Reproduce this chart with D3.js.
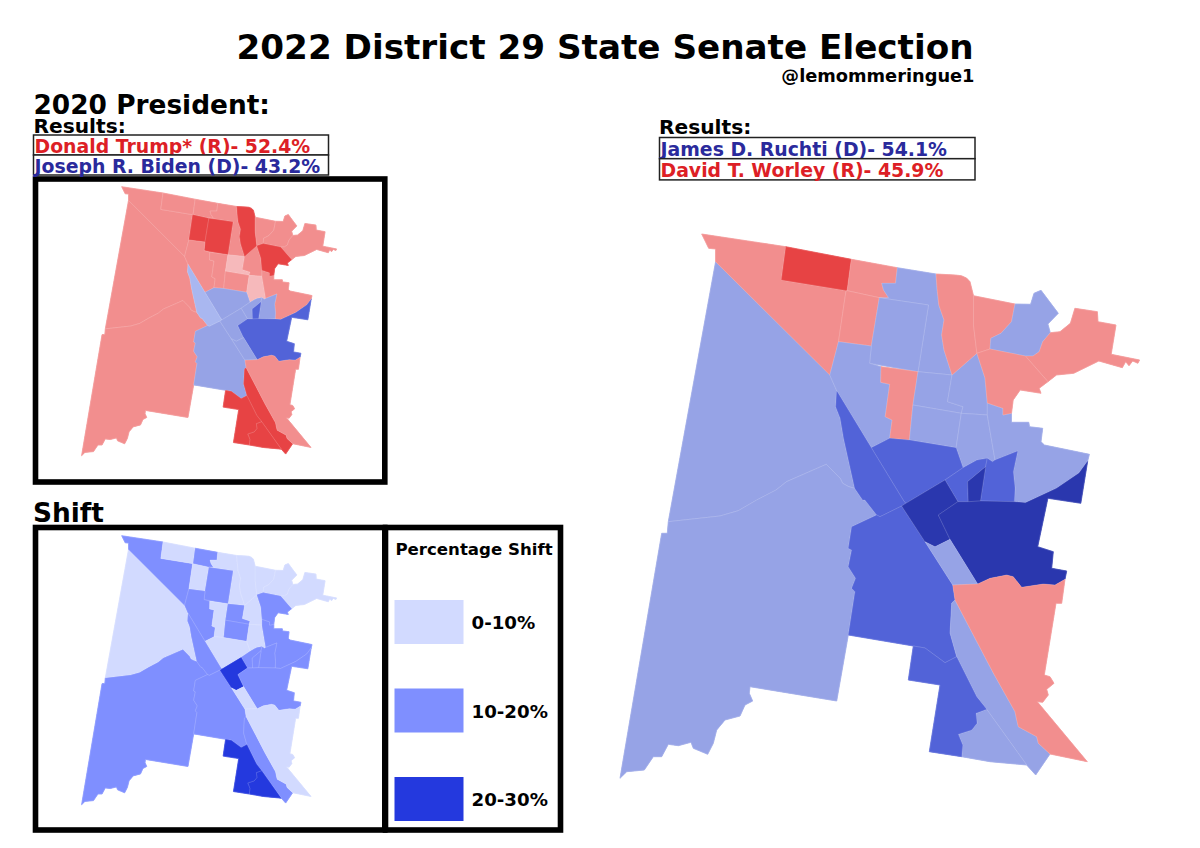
<!DOCTYPE html>
<html>

<head>
    <meta charset="utf-8">
    <style>
        html, body { margin: 0; padding: 0; background: #fff; }
        svg { display: block; }
        text { font-family: 'DejaVu Sans', Verdana, sans-serif; font-weight: bold; }
    </style>
</head>

<body>
    <svg width="1200" height="848"></svg>

    <script src="https://d3js.org/d3.v7.min.js"></script>
    <script>
        // precinct outlines (reference pixels)
        const bigNorth = [[715.6,261.7],[829.8,375],[836.7,390.7],[835.7,406.7],[840.2,418.3],[843.6,438.3],[854.7,488.3],[848.8,486.7],[842.6,483.3],[840.2,478.3],[826.3,464.3],[786.5,481.7],[776,490],[756.7,500],[738.3,510.7],[720,516],[668.3,521.7]];
        const bigSouth = [[668.3,521.7],[720,516],[738.3,510.7],[756.7,500],[776,490],[786.5,481.7],[826.3,464.3],[840.2,478.3],[842.6,483.3],[848.8,486.7],[854.7,488.3],[862.7,500],[865,500],[876.7,515],[851.7,526.7],[848.3,548.3],[851.7,550],[848.3,566.7],[855.7,578.3],[851.7,588.3],[855,591.7],[848.3,635],[836.7,701],[750,686.7],[749.3,693.3],[752.7,701],[745,705],[740,716],[725,720],[716.7,730],[713.3,743.3],[707.7,754.3],[693.3,748.3],[691,742.3],[678.3,745.7],[668.3,744.3],[661.7,756.7],[653.3,756.7],[644.3,770],[626.7,771.7],[620,778.3],[661.7,533.3],[667.3,533.3]];
        const nwPink = [[701.7,234],[785.8,246.7],[781.3,280],[847.1,290.7],[846,291],[838.5,341.7],[829.8,375],[715.6,261.7],[715.6,249],[708.7,248.3]];
        const topRect = [[785.8,246.7],[851.3,259.3],[847.1,290.7],[781.3,280]];
        const topHook = [[851.3,259.3],[897.3,267.7],[895.6,283.3],[881.7,283.3],[883.5,290],[888.6,297.7],[879.3,297.7],[847.1,290.7]];
        const underTop = [[846,291],[847.1,290.7],[879.3,297.7],[871.3,346],[838.5,341.7]];
        const midL = [[897.3,267.7],[936,274],[937,288.3],[938.8,305],[944,320],[941.6,335],[944,350],[952,375],[918,371.7],[928.5,305],[879.3,297.7],[888.6,297.7],[883.5,290],[881.7,283.3],[895.6,283.3]];
        const midSquare = [[879.3,297.7],[928.5,305],[918,371.7],[869.6,363.3],[871.3,346]];
        const westL = [[838.5,341.7],[871.3,346],[869.6,363.3],[881,366.7],[880.7,382.3],[889.7,384.3],[885.2,416.7],[892.1,420],[889.7,438.3],[871.3,447.7],[836.7,390.7],[829.8,375]];
        const stem = [[881,366.7],[918,371.7],[912.9,405],[909.4,440],[889.7,438.3],[892.1,420],[885.2,416.7],[889.7,384.3],[880.7,382.3]];
        const cellA = [[918,371.7],[952,375],[947.5,401.7],[963,406.7],[961.3,413.3],[912.9,405]];
        const cellB = [[912.9,405],[961.3,413.3],[956.1,447.7],[909.4,440]];
        const cellC = [[952,375],[976.9,353.3],[985,378],[987.3,403],[987.3,415],[961.3,413.3],[963,406.7],[947.5,401.7]];
        const cellD = [[961.3,413.3],[987.3,415],[995,460],[992.5,461.7],[987.3,458.3],[977,460],[963,467.7],[956.1,447.7]];
        const eastBlock = [[987.3,403],[1002.9,408.3],[1002.9,415],[1011.5,413.3],[1011.5,422.3],[1028.8,422.3],[1029.5,426.7],[1042.7,428.3],[1041,441.7],[1044.4,445],[1089.4,454.3],[1087.7,461],[1079,473],[1056.5,488.3],[1025.4,502.7],[1014.3,501.7],[1015,488.3],[1013.3,471.7],[1017.7,451],[995,460],[987.3,415]];
        const tallPink = [[936,274],[955,275],[961.3,275.7],[966.5,278],[970,281.7],[973.5,295.7],[973.5,325],[976.9,353.3],[952,375],[944,350],[941.6,335],[944,320],[938.8,305],[937,288.3]];
        const northPink = [[973.5,295.7],[1015,304],[1011.5,321.7],[1001,333.3],[990.8,338.3],[990,349],[976.9,353.3],[973.5,325]];
        const neLobe = [[1015,304],[1030.6,304.3],[1034,293.3],[1041,290.3],[1058.3,313.3],[1047.9,324],[1050.3,332.7],[1042.7,341.7],[1039.2,351.7],[1033,356],[1025.4,356],[990,349],[990.8,338.3],[1001,333.3],[1011.5,321.7]];
        const eastArm = [[1033,356],[1039.2,351.7],[1042.7,341.7],[1050.3,332.7],[1060,331.7],[1070.4,323.3],[1074.9,308.3],[1097.4,311.7],[1098,321.7],[1116,325],[1111.2,354.3],[1139.6,360],[1137.9,363.3],[1132.7,361],[1129,365.7],[1125.7,361.7],[1122.3,367.7],[1098.8,361],[1073.8,373.3],[1056.5,375],[1047.9,381.7],[1025.4,356]];
        const eastPink = [[976.9,353.3],[990,349],[1025.4,356],[1047.9,381.7],[1039.2,388.3],[1041,393.3],[1020.2,390],[1013.2,400],[1011.5,413.3],[1002.9,415],[1002.9,408.3],[987.3,403],[985,378]];
        const northMid = [[871.3,447.7],[889.7,438.3],[909.4,440],[956.1,447.7],[963,467.7],[945,480],[906,503.3],[904.2,501.7]];
        const westDiag = [[836.7,390.7],[871.3,447.7],[904.2,501.7],[906,503.3],[901.7,506],[880,516.7],[876.7,515],[865,500],[862.7,500],[854.7,488.3],[843.6,438.3],[840.2,418.3],[835.7,406.7]];
        const southMid = [[901.7,506],[925,541.7],[952.7,585],[955,600],[951.7,603],[950,633],[956.7,656.7],[945,662.7],[925,648],[913.3,646],[848.3,635],[855,591.7],[851.7,588.3],[855.7,578.3],[848.3,566.7],[851.7,550],[848.3,548.3],[851.7,526.7],[876.7,515],[880,516.7]];
        const bandA = [[945,480],[963,467.7],[977,460],[987.3,458.3],[985.6,466.7],[967.6,481.7],[968.3,501.7],[957.9,501.7]];
        const bandB = [[987.3,458.3],[992.5,461.7],[995,460],[1017.7,451],[1013.3,471.7],[1015,488.3],[1014.3,501.7],[980.4,501],[985.6,466.7]];
        const navyTwo = [[906,503.3],[945,480],[957.9,501.7],[938.3,515],[950,539.3],[935,546.7],[925,541.7],[901.7,506]];
        const spike = [[967.6,481.7],[985.6,466.7],[980.4,501],[968.3,501.7]];
        const navyBig = [[938.3,515],[957.9,501.7],[968.3,501.7],[980.4,501],[1014.3,501.7],[1025.4,502.7],[1056.5,488.3],[1079,473],[1087.7,461],[1080.8,503.3],[1047.9,498.3],[1037.7,546.7],[1053.3,551.7],[1051.7,568.3],[1066.7,571],[1065,579.3],[1055,585],[1043.3,584],[1021.7,587.3],[1013.3,576.7],[1006.7,575],[990,578.3],[977.7,584],[950,539.3]];
        const stripNorth = [[925,541.7],[935,546.7],[950,539.3],[977.7,584],[952.7,585]];
        const stripSouth = [[955,600],[993.3,673],[1015,711.7],[1016.7,720],[1018.3,726.7],[1036.7,736.7],[1038.3,743.3],[1050,754],[1035.7,775],[1026.7,765],[986.7,709.3],[976.7,696.7],[956.7,656.7],[950,633],[951.7,603]];
        const bottomLight = [[986.7,709.3],[1026.7,765],[990,761.7],[961.7,756.7],[962.7,745],[958.3,734.3],[971.7,730],[977,723.3],[976,713.3]];
        const bottomMid = [[956.7,656.7],[976.7,696.7],[986.7,709.3],[976,713.3],[977,723.3],[971.7,730],[958.3,734.3],[962.7,745],[961.7,756.7],[929.3,751.7],[940,685],[908.3,680],[913.3,646],[925,648],[945,662.7]];
        const sePink = [[952.7,585],[977.7,584],[990,578.3],[1006.7,575],[1013.3,576.7],[1021.7,587.3],[1043.3,584],[1055,585],[1065,579.3],[1061.7,603.3],[1056,603.3],[1044.3,675],[1050,676.7],[1054,683.3],[1046.7,689.3],[1048.3,695],[1042.7,702.3],[1037.3,701.7],[1087.3,761.7],[1050,754],[1038.3,743.3],[1036.7,736.7],[1018.3,726.7],[1016.7,720],[1015,711.7],[993.3,673],[955,600]];

        const precincts = [bigNorth, bigSouth, nwPink, topRect, topHook, underTop, midL, midSquare, westL, stem, cellA, cellB, cellC, cellD, eastBlock, tallPink, northPink, neLobe, eastArm, eastPink, northMid, westDiag, southMid, bandA, bandB, navyTwo, spike, navyBig, stripNorth, stripSouth, bottomLight, bottomMid, sePink];

        // rating per precinct, same order as precincts
        const senate2022 = ["d1","d1","r1","r2","r1","r1","d1","d1","d1","r1","d1","d1","d1","d1","d1","r1","r1","d1","r1","r1","d2","d2","d2","d2","d2","d3","d3","d3","d1","d1","d1","d2","r1"];
        const president2020 = ["r1","r1","r1","r1","r1","r2","r1","r2","r1","r1","r0","r1","r1","r0","r1","r2","r1","r1","r1","r2","d1","d0","d1","d1","d1","d1","d2","d2","d1","r2","r2","r2","r1"];
        const shift = ["s1","s2","s2","s1","s2","s1","s1","s2","s2","s1","s2","s2","s1","s1","s2","s1","s1","s1","s1","s2","s1","s2","s2","s2","s2","s3","s2","s2","s1","s2","s3","s3","s1"];

        const ratingKeys = ["r0","r1","r2","d0","d1","d2","d3"];
        const ratingColors = ["#f6b9bb","#f28e8e","#e74344","#a9b7f0","#96a3e6","#5263d8","#2a37ae"];

        const shiftKeys = ["s1","s2","s3"];
        const shiftLabels = ["0-10%","10-20%","20-30%"];
        const shiftColors = ["#d2daff","#7f8fff","#2439de"];

        const results2020 = ["Donald Trump* (R)- 52.4%","Joseph R. Biden (D)- 43.2%"];
        const results2020Colors = ["#dd1f26","#2a2a9c"];
        const results2022 = ["James D. Ruchti (D)- 54.1%","David T. Worley (R)- 45.9%"];
        const results2022Colors = ["#2a2a9c","#dd1f26"];

        let svg = d3.select("svg");

        let ratingColor = d3.scaleOrdinal().domain(ratingKeys).range(ratingColors);
        let shiftColor = d3.scaleOrdinal().domain(shiftKeys).range(shiftColors);

        function drawMap(classes, color, xRange, yRange) {
            let x = d3.scaleLinear().domain([701.7, 1139.6]).range(xRange);
            let y = d3.scaleLinear().domain([234, 778.3]).range(yRange);
            let line = d3.line()
                .x(d => x(d[0]))
                .y(d => y(d[1]))
                .curve(d3.curveLinearClosed);

            let g = svg.append("g");
            // underlay hides hairline gaps between neighbours
            g.selectAll(".under")
                .data(precincts)
                .join("path")
                .attr("d", line)
                .style("fill", (d, i) => color(classes[i]))
                .style("stroke", (d, i) => color(classes[i]))
                .style("stroke-width", 0.8);
            g.selectAll(".precinct")
                .data(precincts)
                .join("path")
                .attr("class", "precinct")
                .attr("d", line)
                .style("fill", (d, i) => color(classes[i]))
                .style("stroke", "#fff")
                .style("stroke-opacity", 0.22)
                .style("stroke-width", 0.6);
        }

        drawMap(senate2022, ratingColor, [701.7, 1139.6], [234, 778.3]);
        drawMap(president2020, ratingColor, [121.7, 336.7], [186.7, 455.7]);
        drawMap(shift, shiftColor, [121.7, 336.7], [535.7, 804.7]);

        function frame(x, y, w, h) {
            svg.append("rect")
                .attr("x", x).attr("y", y)
                .attr("width", w).attr("height", h)
                .style("fill", "none")
                .style("stroke", "#000")
                .style("stroke-width", 5.6);
        }
        frame(35.5, 179, 349.3, 303);
        frame(35.5, 527.5, 349.3, 302.5);
        frame(385.5, 527.5, 175, 302.5);

        function label(t, x, y, size, anchor, fill) {
            return svg.append("text")
                .text(t)
                .attr("x", x)
                .attr("y", y)
                .attr("text-anchor", anchor || "start")
                .style("font-size", size + "px")
                .style("fill", fill || "#000");
        }

        label("2022 District 29 State Senate Election", 605, 59, 34.2, "middle");
        label("@lemommeringue1", 974.5, 82, 17.8, "end");
        label("2020 President:", 33.5, 113.5, 26.4);
        label("Results:", 33.5, 133, 20.2);
        label("Results:", 659, 133.5, 20.2);
        label("Shift", 33, 522, 26.4);

        function resultRows(names, colors, x, w, y, h, inset) {
            let band = d3.scaleBand().domain(names).range([y, y + 2 * h]);
            names.forEach((n, i) => {
                svg.append("rect")
                    .attr("x", x).attr("y", band(n))
                    .attr("width", w).attr("height", band.bandwidth())
                    .style("fill", "#fff")
                    .style("stroke", "#222")
                    .style("stroke-width", 1.5);
                label(n, x + 1, band(n) + h - inset, 18.85, "start", colors[i]);
            });
        }
        resultRows(results2020, results2020Colors, 33.5, 295, 135, 20, 2);
        resultRows(results2022, results2022Colors, 659.5, 315.5, 137.5, 21.2, 3);

        // legend
        label("Percentage Shift", 474, 555, 16.6, "middle");
        let legendY = d3.scaleBand().domain(shiftLabels).range([600, 865.5]).align(0);
        shiftLabels.forEach((s, i) => {
            svg.append("rect")
                .attr("x", 394.5).attr("y", legendY(s))
                .attr("width", 69).attr("height", 44)
                .style("fill", shiftColor(shiftKeys[i]));
            label(s, 471.5, legendY(s) + 29, 18.2);
        });
    </script>
</body>

</html>
